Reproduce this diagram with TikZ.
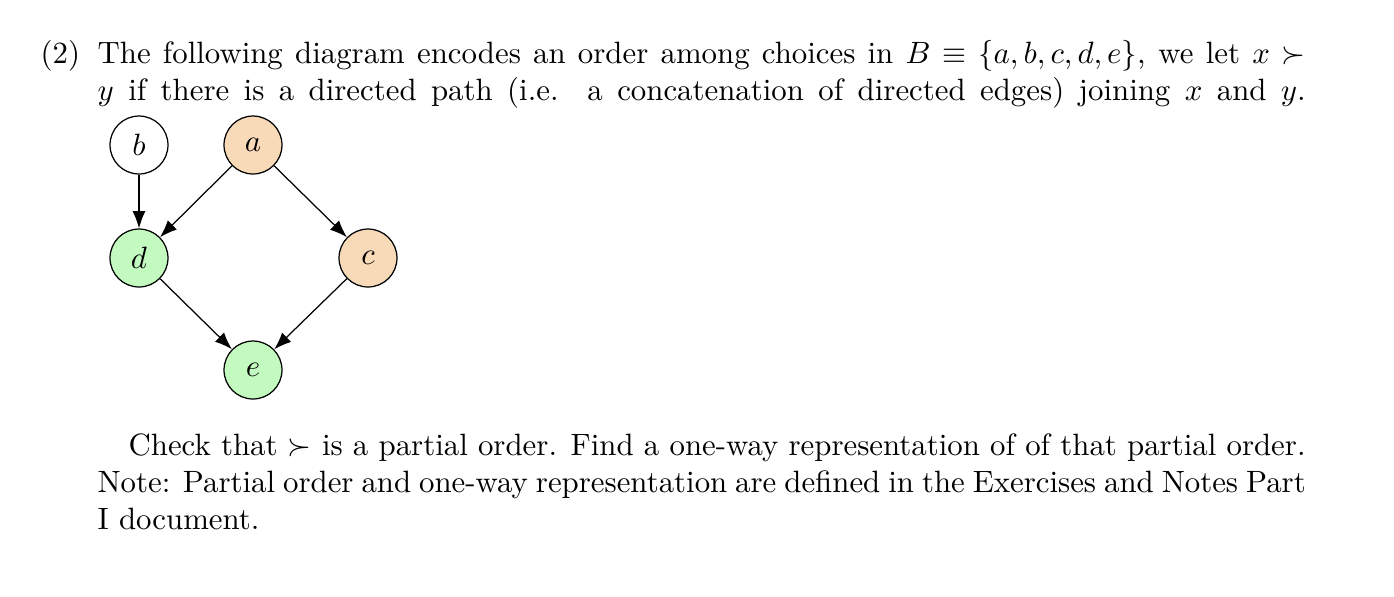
\documentclass[tikz,border=0pt]{standalone}
\usetikzlibrary{arrows.meta}
\definecolor{peach}{HTML}{F8D9B8}
\definecolor{mint}{HTML}{C2FAC0}
\begin{document}
\begin{tikzpicture}[x=0.3243pt,y=-0.3243pt,
  vtx/.style={circle,draw=black,line width=0.4pt,minimum size=18.8pt,inner sep=0pt},
  edge/.style={-{Latex[length=5.6pt,width=4.2pt]},line width=0.4pt},
  txt/.style={anchor=base west,inner sep=0pt,font=\fontsize{10}{12}\selectfont}]
\useasboundingbox (0,0) rectangle (1394,596);
% text
\node[txt] (num) at (40,63) {(2)};
\node[txt] (l1) at (97,63) {\hbox to 391.8pt{The following diagram encodes an order among choices in $B\equiv\{a,b,c,d,e\}$, we let $x\succ$}};
\node[txt] (l2) at (97,100) {\hbox to 391.8pt{$y$ if there is a directed path (i.e.\ \ a concatenation of directed edges) joining $x$ and $y$.}};
\node[txt] (p1) at (128,455) {\hbox to 381.7pt{Check that $\succ$ is a partial order. Find a one-way representation of of that partial order.}};
\node[txt] (p2) at (97,492) {\hbox to 391.8pt{Note: Partial order and one-way representation are defined in the Exercises and Notes Part}};
\node[txt] (p3) at (97,529) {I document.};
% graph
\node[vtx,fill=white] (b) at (139,145) {$b$};
\node[vtx,fill=peach] (a) at (253,145) {$a$};
\node[vtx,fill=mint] (d) at (139,258) {$d$};
\node[vtx,fill=peach] (c) at (368,258) {$c$};
\node[vtx,fill=mint] (e) at (253,370) {$e$};
\draw[edge] (b) -- (d);
\draw[edge] (a) -- (d);
\draw[edge] (a) -- (c);
\draw[edge] (d) -- (e);
\draw[edge] (c) -- (e);
\end{tikzpicture}
\end{document}
